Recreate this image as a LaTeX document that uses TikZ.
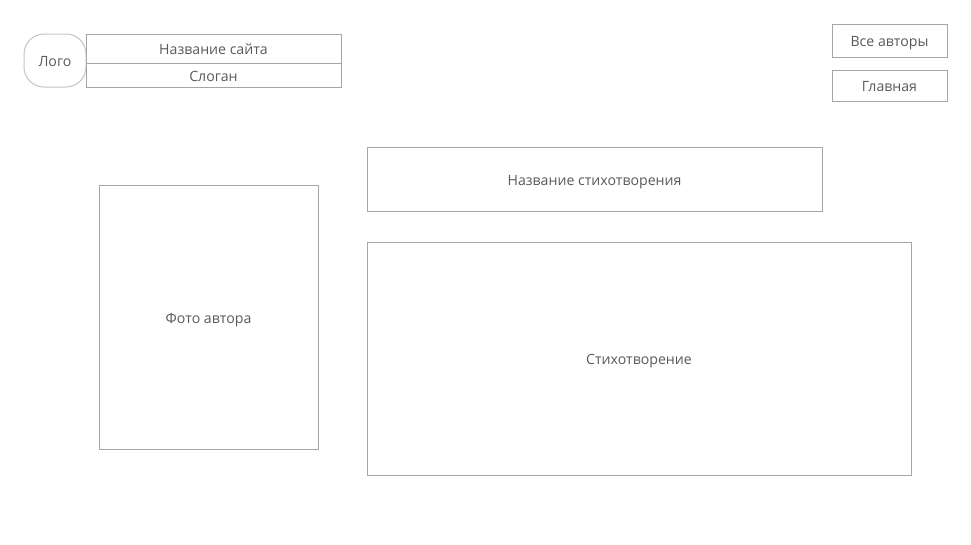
\documentclass[tikz,border=0pt]{standalone}
\usepackage{fontspec}
\setmainfont{Open Sans}
\definecolor{edge}{HTML}{A6A6A6}
\definecolor{logoedge}{HTML}{C4C4C4}
\definecolor{txt}{HTML}{595959}
\begin{document}
\begin{tikzpicture}[x=0.75pt,y=-0.75pt,
  box/.style={draw=edge,line width=0.75pt,text=txt,font=\fontsize{10.6}{12}\selectfont,inner sep=0pt,text height=9.2pt,text depth=0pt},
]
\useasboundingbox (0,0) rectangle (971,544);
\node[box,draw=logoedge,rounded corners=15pt,minimum width=62*0.75pt,minimum height=53*0.75pt,text height=8.5pt] (logo) at (55,60.5) {Лого};
\node[box,minimum width=255*0.75pt,minimum height=29*0.75pt,text height=8.5pt] (site) at (213.5,48.5) {Название сайта};
\node[box,minimum width=255*0.75pt,minimum height=24*0.75pt,text height=8.5pt] (slogan) at (213.5,75.5) {Слоган};
\node[box,minimum width=115*0.75pt,minimum height=33*0.75pt] (authors) at (889.5,40.5) {Все авторы};
\node[box,minimum width=115*0.75pt,minimum height=31*0.75pt] (main) at (889.5,85.5) {Главная};
\node[box,minimum width=455*0.75pt,minimum height=64*0.75pt] (title) at (594.5,179) {Название стихотворения};
\node[box,minimum width=219*0.75pt,minimum height=264*0.75pt] (photo) at (208.5,317) {Фото автора};
\node[box,minimum width=544*0.75pt,minimum height=233*0.75pt] (poem) at (639,358.5) {Стихотворение};
\end{tikzpicture}
\end{document}
